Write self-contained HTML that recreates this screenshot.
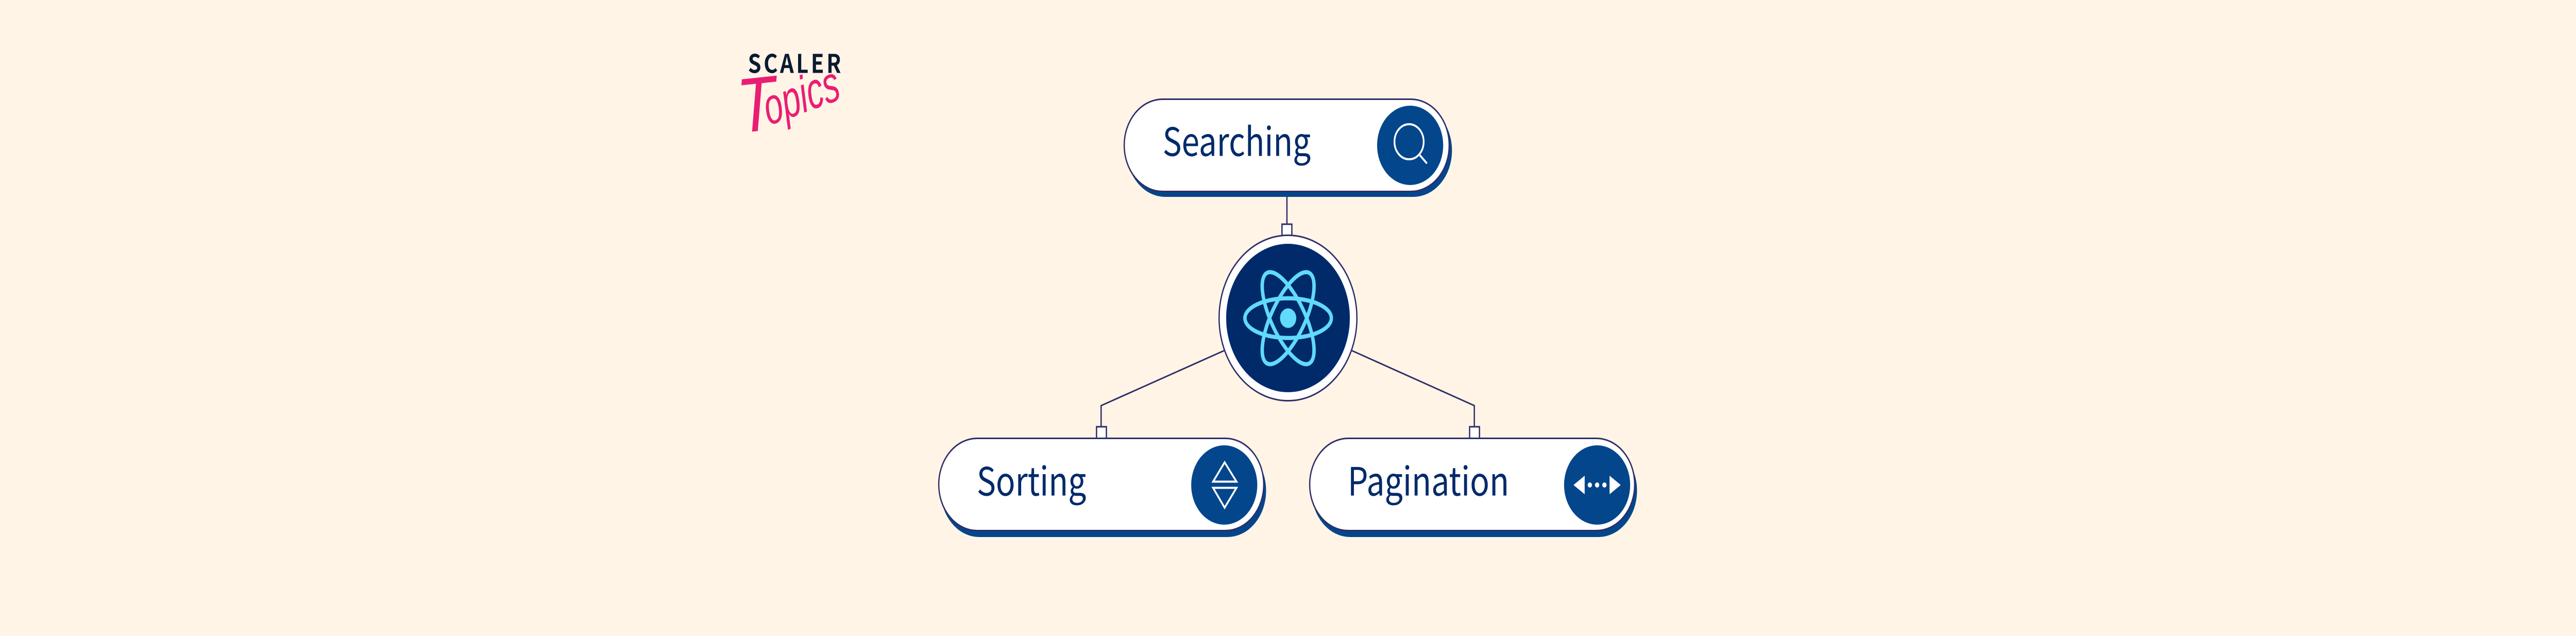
<!DOCTYPE html>
<html><head><meta charset="utf-8"><style>
html,body{margin:0;padding:0;background:#fff4e6;width:100%;height:100%;overflow:hidden}
svg{display:block;position:fixed;left:0;top:0;width:100vw;height:100vh}
.l{font-family:"Noto Sans CJK SC","Liberation Sans",sans-serif;font-size:76px;fill:#012a6b}
</style></head><body>
<svg viewBox="0 0 6000 1234" preserveAspectRatio="none" xmlns="http://www.w3.org/2000/svg">
<rect width="6000" height="1234" fill="#fff4e6"/>
<!-- logo -->
<text x="1742" y="141.5" font-family="'Noto Sans CJK SC','Liberation Sans',sans-serif" font-weight="700" font-size="50" fill="#0b1a30" textLength="217" lengthAdjust="spacing">SCALER</text>
<g font-family="'Liberation Sans',sans-serif" font-style="italic" fill="#e91e73">
<text x="1722" y="258" font-size="150" transform="rotate(-5 1722 258)" textLength="88" lengthAdjust="spacingAndGlyphs">T</text>
<text x="1790" y="244" font-size="100" transform="rotate(-17 1790 244)" textLength="180" lengthAdjust="spacingAndGlyphs">opics</text>
</g>
<!-- connectors -->
<g fill="none" stroke="#2e2d67" stroke-width="3">
<path d="M2997.5 372V436"/>
<path d="M2852 680L2564.7 787V829"/>
<path d="M3148 680L3434 787V829"/>
</g>
<g fill="#fff" stroke="#2e2d67" stroke-width="3">
<rect x="2986" y="435" width="23" height="24"/>
<rect x="2554" y="828" width="23" height="24"/>
<rect x="3423" y="828" width="23" height="24"/>
</g>
<!-- center -->
<circle cx="3000" cy="617" r="160.5" fill="#fff" stroke="#2e2d67" stroke-width="3"/>
<circle cx="3000" cy="617" r="144" fill="#012a6b"/>
<g fill="none" stroke="#61dafb" stroke-width="8">
<ellipse cx="3000.3" cy="617.3" rx="100.7" ry="38.5"/>
<ellipse cx="3000.3" cy="617.3" rx="100.7" ry="38.5" transform="rotate(60 3000.3 617.3)"/>
<ellipse cx="3000.3" cy="617.3" rx="100.7" ry="38.5" transform="rotate(120 3000.3 617.3)"/>
</g>
<circle cx="3000.3" cy="617.3" r="19" fill="#61dafb"/>
<!-- Searching -->
<rect x="2624" y="202" width="758" height="180" rx="90" fill="#04468c"/>
<rect x="2618.5" y="192.5" width="757" height="179" rx="89.5" fill="#fff" stroke="#2e2d67" stroke-width="3"/>
<circle cx="3284.5" cy="282" r="77" fill="#04468c"/>
<circle cx="3282" cy="275" r="34" fill="none" stroke="#fff" stroke-width="4"/>
<path d="M3308 302L3322.5 316" stroke="#fff" stroke-width="4" stroke-linecap="round"/>
<text class="l" x="2708" y="302.7" textLength="345" lengthAdjust="spacingAndGlyphs">Searching</text>
<!-- Sorting -->
<rect x="2191" y="862" width="758" height="180" rx="90" fill="#04468c"/>
<rect x="2186.5" y="850.5" width="757" height="179" rx="89.5" fill="#fff" stroke="#2e2d67" stroke-width="3"/>
<circle cx="2851.5" cy="941" r="77" fill="#04468c"/>
<path d="M2852.4 897L2825.5 934.5H2880Z" fill="none" stroke="#fff" stroke-width="4"/>
<path d="M2825.5 946.5H2880L2852.4 985Z" fill="none" stroke="#fff" stroke-width="4"/>
<text class="l" x="2275" y="961.7" textLength="255" lengthAdjust="spacingAndGlyphs">Sorting</text>
<!-- Pagination -->
<rect x="3055" y="862" width="758" height="180" rx="90" fill="#04468c"/>
<rect x="3050.5" y="850.5" width="757" height="179" rx="89.5" fill="#fff" stroke="#2e2d67" stroke-width="3"/>
<circle cx="3720" cy="941" r="77" fill="#04468c"/>
<path d="M3665 941L3691 923V959Z M3775 941L3749 923V959Z" fill="#fff"/>
<circle cx="3703" cy="941" r="5" fill="#fff"/><circle cx="3720" cy="941" r="5" fill="#fff"/><circle cx="3737" cy="941" r="5" fill="#fff"/>
<text class="l" x="3139" y="961.7" textLength="376" lengthAdjust="spacingAndGlyphs">Pagination</text>
</svg>
</body></html>
